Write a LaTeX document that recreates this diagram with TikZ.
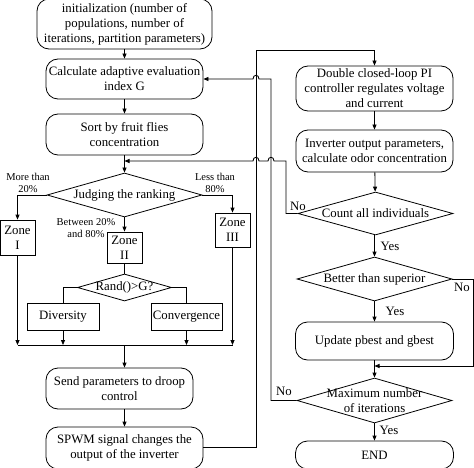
\documentclass[tikz,border=0pt]{standalone}
\usepackage{fontspec}
\setmainfont{Liberation Serif}
\usetikzlibrary{shapes.geometric,arrows.meta}
\begin{document}
\begin{tikzpicture}[x=1pt,y=-1pt,
  font=\fontsize{12.8}{15}\selectfont,
  box/.style={draw, rounded corners=12pt, align=center, inner sep=0pt, line width=0.8pt},
  zone/.style={draw, align=center, inner sep=0pt, line width=0.8pt},
  dia/.style={draw, diamond, inner sep=0pt, line width=0.8pt},
  txt/.style={align=center, inner sep=0pt},
  small/.style={align=center, inner sep=0pt, font=\fontsize{10.5}{12}\selectfont},
  conn/.style={line width=0.8pt},
  arr/.style={conn, -{Triangle[length=5pt,width=4pt]}},
]
\useasboundingbox (0,0) rectangle (474,468);

% left column
\node[box, minimum width=175pt, minimum height=50pt] (init) at (124.5,24)
  {initialization (number of\\populations, number of\\iterations, partition parameters)};
\node[box, minimum width=157pt, minimum height=40pt] (calc) at (124.5,79)
  {Calculate adaptive evaluation\\index G};
\node[box, minimum width=157pt, minimum height=41pt] (sort) at (124.5,134.5)
  {Sort by fruit flies\\concentration};
\node[dia, minimum width=155pt, minimum height=44pt] (judge) at (124.5,195) {};
\node[txt] (judgeT) at (judge) {Judging the ranking};
\node[zone, minimum width=35pt, minimum height=35pt] (zone1) at (17.5,237.5) {Zone\\I};
\node[zone, minimum width=35pt, minimum height=31pt] (zone2) at (124.5,247.5) {Zone\\II};
\node[zone, minimum width=35pt, minimum height=34pt] (zone3) at (232.5,230) {Zone\\III};
\node[dia, minimum width=94pt, minimum height=27pt] (rand) at (124.5,287.5) {};
\node[txt] (randT) at (rand) {Rand()>G?};
\node[zone, minimum width=72pt, minimum height=27pt] (div) at (63,316.5) {Diversity};
\node[zone, minimum width=71pt, minimum height=27pt] (conv) at (186.5,316.5) {Convergence};
\node[box, minimum width=147pt, minimum height=41pt] (send) at (119.5,388.5)
  {Send parameters to droop\\control};
\node[box, minimum width=157pt, minimum height=42pt] (spwm) at (124.5,448)
  {SPWM signal changes the\\output of the inverter};

\node[small] (lmore) at (28,183) {More than\\20\%};
\node[small] (lless) at (215,183) {Less than\\80\%};
\node[small] (lbetw) at (86,228) {Between 20\%\\and 80\%};

% right column
\node[box, minimum width=157pt, minimum height=45pt] (dbl) at (374.5,88.5)
  {Double closed-loop PI\\controller regulates voltage\\and current};
\node[box, minimum width=157pt, minimum height=42pt] (inv) at (374.5,151)
  {Inverter output parameters,\\calculate odor concentration};
\node[dia, minimum width=155pt, minimum height=43pt] (count) at (375.5,213.5) {};
\node[txt] (countT) at (count) {Count all individuals};
\node[dia, minimum width=155pt, minimum height=44pt] (better) at (374.5,279) {};
\node[txt] (betterT) at (better) {Better than superior};
\node[box, minimum width=158pt, minimum height=38pt] (upd) at (374.5,341)
  {Update pbest and gbest};
\node[dia, minimum width=155pt, minimum height=45pt] (max) at (374.5,400.5) {};
\node[txt] (maxT) at (max) {Maximum number\\of iterations};
\node[box, minimum width=158pt, minimum height=28pt] (end) at (374.5,455) {END};

\node[txt] (nocount) at (298,206) {No};
\node[txt] (yescount) at (390,246) {Yes};
\node[txt] (nobetter) at (462,287) {No};
\node[txt] (yesbetter) at (395,311) {Yes};
\node[txt] (nomax) at (284,391) {No};
\node[txt] (yesmax) at (389,430) {Yes};

% coordinates
\coordinate (cz1) at (17.5,345);
\coordinate (cdiv) at (63,345);
\coordinate (cmid) at (124.5,345);
\coordinate (cconv) at (186.5,345);
\coordinate (cz3) at (232.5,345);
\coordinate (cjoin) at (374.5,366);

% left connectors
\draw[arr] (init) -- (calc);
\draw[arr] (calc) -- (sort);
\draw[arr] (sort) -- (judge);
\draw[arr] (judge.west) -| (zone1.north);
\draw[arr] (judge.east) -| (zone3.north);
\draw[arr] (judge.south) -- (zone2.north);
\draw[conn] (zone2.south) -- (rand.north);
\draw[conn] (rand.west) -| (div.north);
\draw[conn] (rand.east) -| (conv.north);
\draw[arr] (zone1.south) -- (cz1);
\draw[arr] (div.south) -- (cdiv);
\draw[arr] (conv.south) -- (cconv);
\draw[arr] (zone3.south) -- (cz3);
\draw[conn] (cz1) -- (cz3);
\draw[arr] (cmid) -- (cmid |- send.north);
\draw[arr] (cmid |- send.south) -- (cmid |- spwm.north);

% cross connectors
\draw[arr] (spwm.east |- 0,447) -- (256,447) -- (256,50) -- (374.5,50) -- (dbl.north);
\draw[arr] (count.west) -- (286,213.5) -- (286,161) -- (274,161)
  .. controls (274,156) and (268,156) .. (268,161) -- (259,161)
  .. controls (259,156) and (253,156) .. (253,161) -- (sort.south |- 0,161);
\draw[arr] (max.west) -- (271,400.5) -- (271,79) -- (259,79)
  .. controls (259,74) and (253,74) .. (253,79) -- (calc.east);

% right connectors
\draw[arr] (dbl) -- (inv);
\draw[arr] (inv) -- (count);
\draw[arr] (count.south -| better) -- (better.north);
\draw[arr] (better) -- (upd);
\draw[conn] (upd.south) -- (cjoin);
\draw[arr] (better.east) -- (473,279) -- (473,366) -- (cjoin);
\draw[arr] (cjoin) -- (max.north);
\draw[arr] (max) -- (end);
\end{tikzpicture}
\end{document}
